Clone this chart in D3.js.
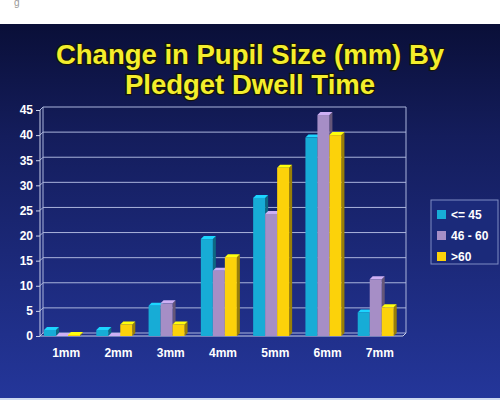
<!DOCTYPE html>
<html>
<head>
<meta charset="utf-8">
<script src="https://cdn.jsdelivr.net/npm/d3@7"></script>
<style>
  body { margin: 0; background: #fff; }
  svg { display: block; }
</style>
</head>
<body>
<div id="chart"></div>
<script>
// data
var categories = ['1mm', '2mm', '3mm', '4mm', '5mm', '6mm', '7mm']
var seriesNames = ['<= 45', '46 - 60', '>60']
var le45 = [1.2, 1.2, 6.0, 19.3, 27.5, 39.5, 4.7]
var s46to60 = [0, 0, 6.5, 13.0, 24.3, 44.0, 11.3]
var gt60 = [0.2, 2.3, 2.3, 15.7, 33.5, 40.0, 5.7]
var yTicks = [0, 5, 10, 15, 20, 25, 30, 35, 40, 45]
var colors = ['#17acd6', '#a68ec6', '#fcd20a']

var W = 500, H = 400
var svg = d3.select('#chart').append('svg').attr('width', W).attr('height', H)

var defs = svg.append('defs')
var grad = defs.append('linearGradient').attr('id', 'bg')
  .attr('x1', 0).attr('y1', 0).attr('x2', 0).attr('y2', 1)
grad.append('stop').attr('offset', '0%').attr('stop-color', '#0a0f38')
grad.append('stop').attr('offset', '30%').attr('stop-color', '#141d5c')
grad.append('stop').attr('offset', '100%').attr('stop-color', '#24369a')

// white strip on top, stray caption letter
svg.append('rect').attr('x', 0).attr('y', 0).attr('width', W).attr('height', 24).attr('fill', '#fff')
svg.append('text').attr('x', 14).attr('y', 6).attr('font-family', 'Liberation Sans, Arial')
  .attr('font-size', 10).attr('fill', '#999').text('g')

svg.append('rect').attr('x', 0).attr('y', 24).attr('width', W).attr('height', 374).attr('fill', 'url(#bg)')
svg.append('rect').attr('x', 0).attr('y', 398).attr('width', W).attr('height', 2).attr('fill', '#cfdaf0')

// title
var title = svg.append('text')
  .attr('text-anchor', 'middle')
  .attr('font-family', 'Liberation Sans, Arial')
  .attr('font-weight', 'bold')
  .attr('font-size', 27.5)
  .attr('fill', '#f4ee2c')
  .attr('stroke', '#15150a')
  .attr('stroke-width', 2.5)
  .attr('paint-order', 'stroke')
title.append('tspan').attr('x', 250).attr('y', 64).text('Change in Pupil Size (mm) By')
title.append('tspan').attr('x', 250).attr('y', 94).text('Pledget Dwell Time')

// scales
var pLeft = 40, pRight = 406, pTop = 110, pBottom = 336
var x = d3.scaleBand().domain(categories).range([pLeft, pRight])
var y = d3.scaleLinear().domain([0, 45]).range([pBottom, pTop])
var xs = d3.scaleBand().domain(seriesNames).range([0, 36])
var depth = 3

// grid / walls
var grid = svg.append('g')
grid.selectAll('line.h').data(yTicks).enter().append('line')
  .attr('x1', pLeft + depth).attr('x2', pRight)
  .attr('y1', function(d){ return y(d) - depth }).attr('y2', function(d){ return y(d) - depth })
  .attr('stroke', '#aab4dc').attr('stroke-width', 1)
grid.selectAll('line.s').data(yTicks).enter().append('line')
  .attr('x1', pLeft).attr('x2', pLeft + depth)
  .attr('y1', function(d){ return y(d) }).attr('y2', function(d){ return y(d) - depth })
  .attr('stroke', '#aab4dc').attr('stroke-width', 1)
grid.append('line').attr('x1', pLeft + depth).attr('x2', pLeft + depth)
  .attr('y1', y(45) - depth).attr('y2', y(0) - depth).attr('stroke', '#aab4dc')
grid.append('line').attr('x1', pRight).attr('x2', pRight)
  .attr('y1', y(45) - depth).attr('y2', y(0) - depth).attr('stroke', '#aab4dc')
grid.append('line').attr('x1', pLeft).attr('x2', pLeft)
  .attr('y1', y(45)).attr('y2', y(0)).attr('stroke', '#c8cfe8')
grid.append('line').attr('x1', pLeft).attr('x2', pRight - depth)
  .attr('y1', y(0)).attr('y2', y(0)).attr('stroke', '#c8cfe8')
grid.append('line').attr('x1', pRight - depth).attr('x2', pRight)
  .attr('y1', y(0)).attr('y2', y(0) - depth).attr('stroke', '#c8cfe8')

// y axis labels
var yAxis = d3.axisLeft(y).tickValues(yTicks).tickSize(4).tickPadding(3)
var ya = svg.append('g').attr('transform', 'translate(' + pLeft + ',0)').call(yAxis)
ya.select('.domain').remove()
ya.selectAll('line').attr('stroke', '#c8cfe8')
ya.selectAll('text').attr('fill', '#fff').attr('font-size', 12).attr('font-weight', 'bold')
  .attr('font-family', 'Liberation Sans, Arial')

// x axis labels
var xAxis = d3.axisBottom(x).tickSize(0).tickPadding(12)
var xa = svg.append('g').attr('transform', 'translate(0,' + pBottom + ')').call(xAxis)
xa.select('.domain').remove()
xa.selectAll('text').attr('fill', '#fff').attr('font-size', 12).attr('font-weight', 'bold')
  .attr('font-family', 'Liberation Sans, Arial')

// bars
var series = [le45, s46to60, gt60]
var bars = svg.append('g')
categories.forEach(function(c, i){
  seriesNames.forEach(function(s, j){
    var v = series[j][i]
    var x0 = x(c) + 4 + xs(s), w = xs.bandwidth()
    var yt = y(v), yb = y(0)
    var col = d3.color(colors[j])
    var g = bars.append('g')
    // side
    g.append('path')
      .attr('d', 'M' + (x0 + w) + ',' + yb + 'L' + (x0 + w + depth) + ',' + (yb - depth) +
        'L' + (x0 + w + depth) + ',' + (yt - depth) + 'L' + (x0 + w) + ',' + yt + 'Z')
      .attr('fill', col.darker(1.4))
    // top
    g.append('path')
      .attr('d', 'M' + x0 + ',' + yt + 'L' + (x0 + depth) + ',' + (yt - depth) +
        'L' + (x0 + w + depth) + ',' + (yt - depth) + 'L' + (x0 + w) + ',' + yt + 'Z')
      .attr('fill', col.brighter(0.6))
    // front
    g.append('rect').attr('x', x0).attr('y', yt).attr('width', w).attr('height', yb - yt)
      .attr('fill', colors[j])
  })
})

// legend
var lg = svg.append('g').attr('transform', 'translate(431,200)')
lg.append('rect').attr('width', 67).attr('height', 64)
  .attr('fill', '#1b2a7a').attr('stroke', '#7f8cc4').attr('stroke-width', 1)
seriesNames.forEach(function(s, j){
  var row = lg.append('g').attr('transform', 'translate(6,' + (10 + j * 21) + ')')
  row.append('rect').attr('width', 9).attr('height', 9).attr('fill', colors[j])
  row.append('text').attr('x', 14).attr('y', 9)
    .attr('fill', '#fff').attr('font-size', 12).attr('font-weight', 'bold')
    .attr('font-family', 'Liberation Sans, Arial').text(s)
})
</script>
</body>
</html>
